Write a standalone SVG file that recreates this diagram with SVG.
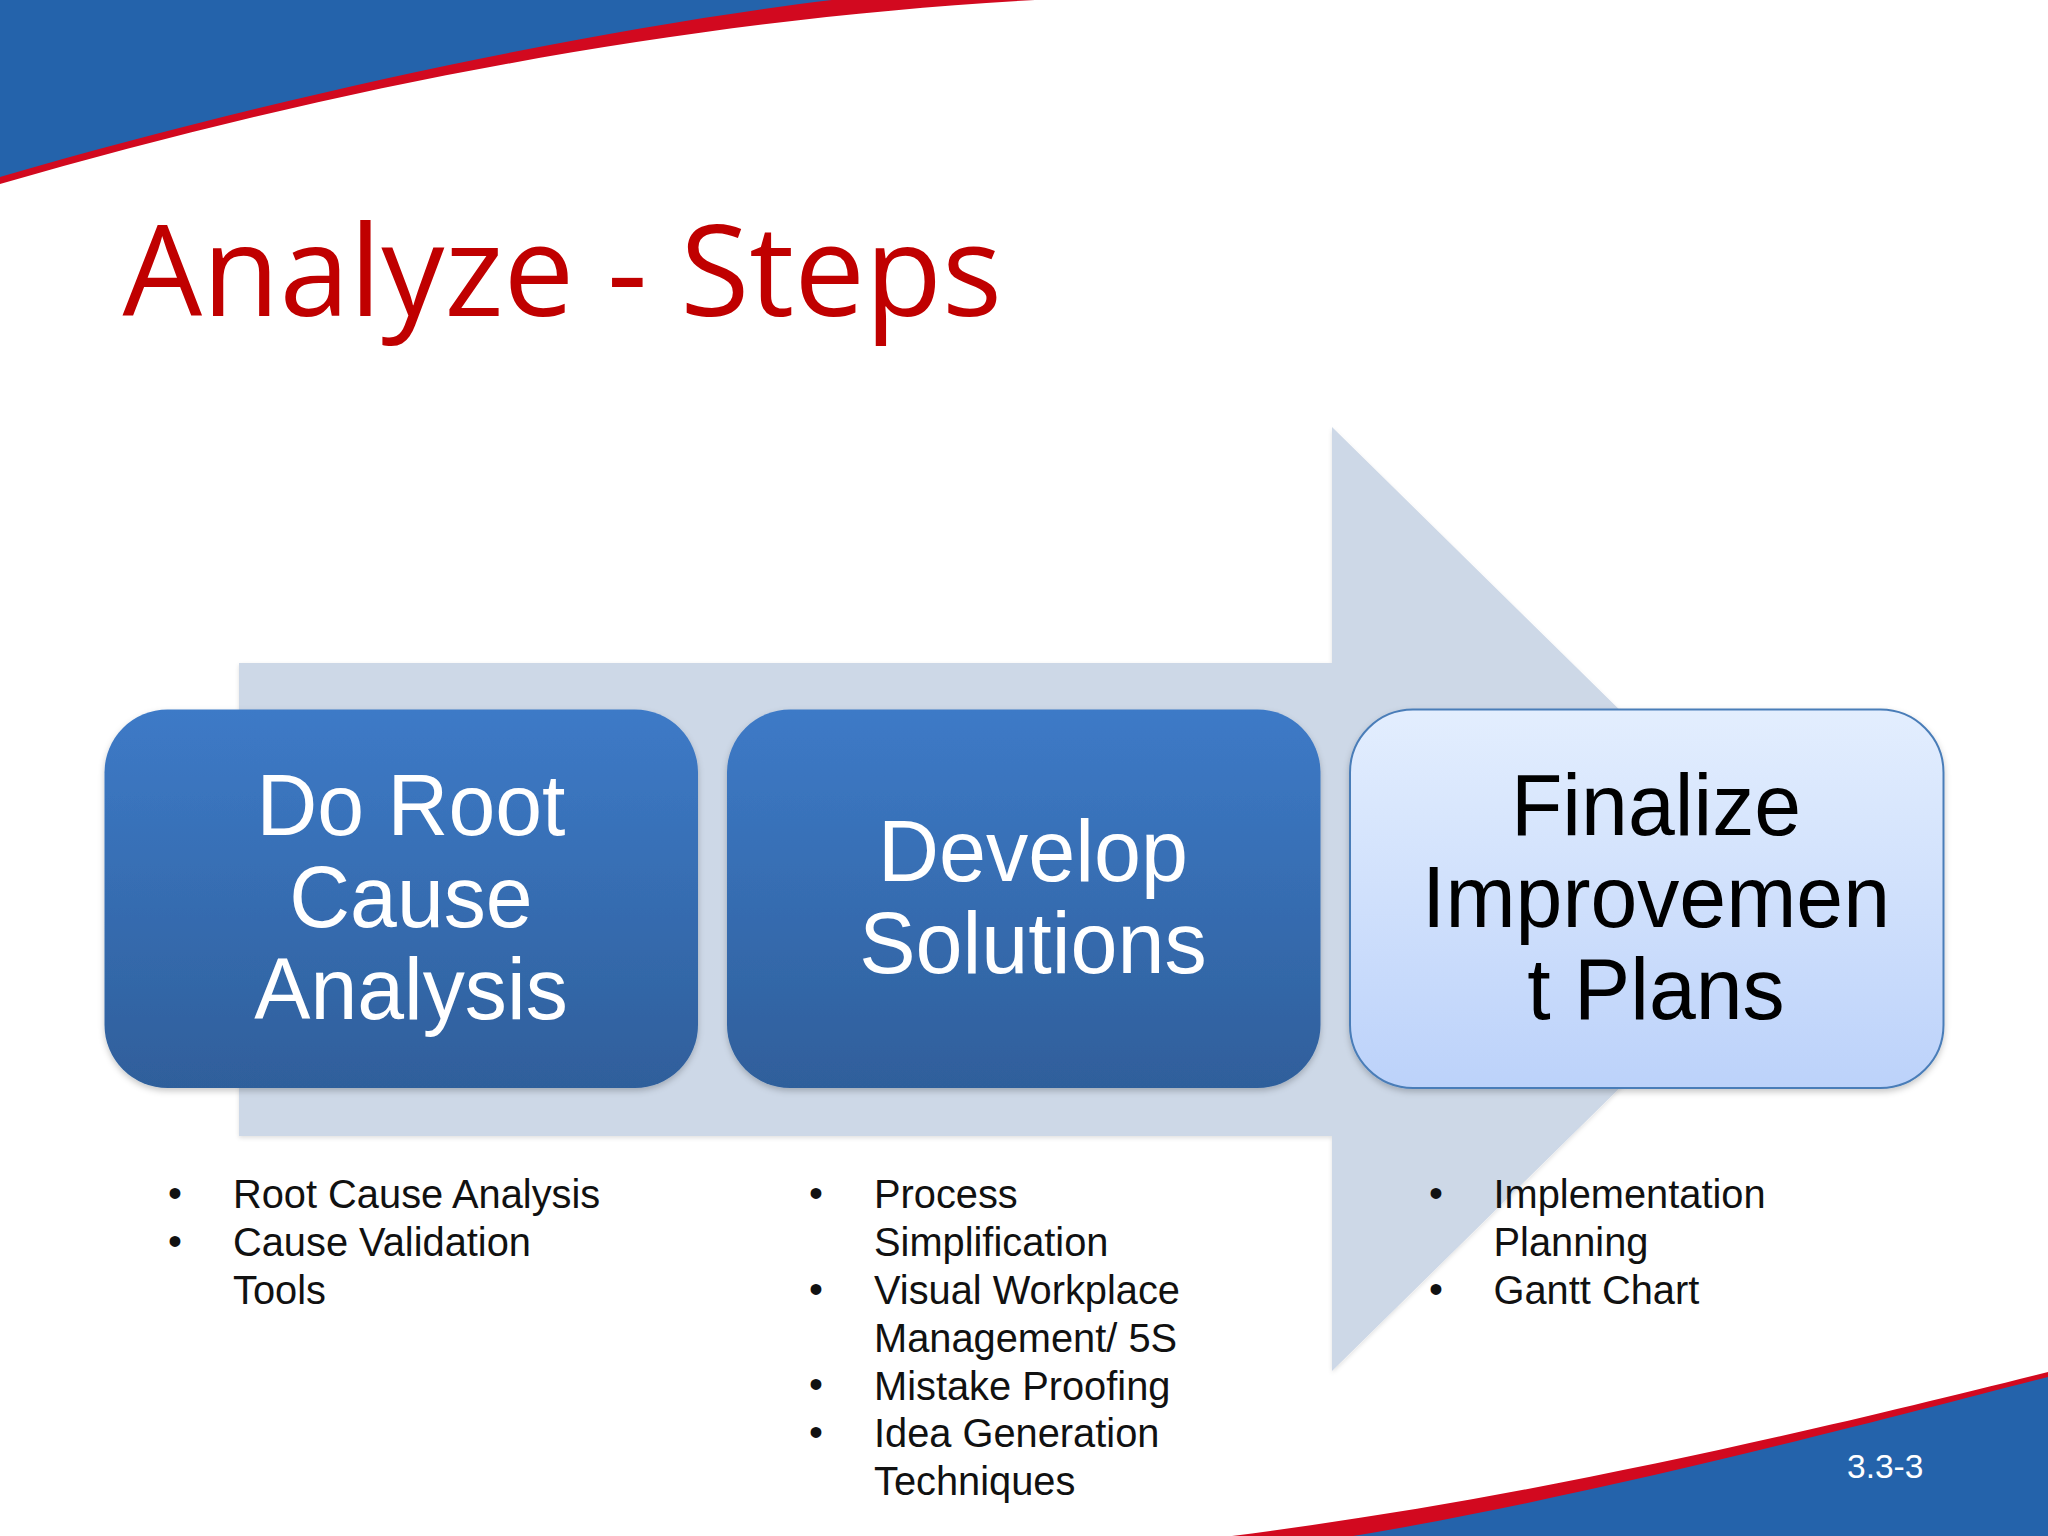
<svg xmlns="http://www.w3.org/2000/svg" width="2048" height="1536" viewBox="0 0 2048 1536">
<defs>
<linearGradient id="gBlue" x1="0" y1="0" x2="0" y2="1"><stop offset="0" stop-color="#3d7ac7"/><stop offset="1" stop-color="#2f5f9b"/></linearGradient>
<linearGradient id="gLight" x1="0" y1="0" x2="0" y2="1"><stop offset="0" stop-color="#e3eefe"/><stop offset="1" stop-color="#bcd2fa"/></linearGradient>
<filter id="sh" x="-5%" y="-5%" width="110%" height="112%"><feDropShadow dx="0" dy="3" stdDeviation="3" flood-color="#000" flood-opacity="0.22"/></filter>
<filter id="shA" x="-5%" y="-5%" width="110%" height="110%"><feDropShadow dx="0" dy="2" stdDeviation="2" flood-color="#000" flood-opacity="0.12"/></filter>
<style>
text{font-family:"Liberation Sans",Arial,sans-serif}
.box{font-size:88px;text-anchor:middle}
.w{fill:#fff}.k{fill:#000}
.body{font-size:39.800px;fill:#111}
.title{font-family:"Open Sans","Noto Sans",sans-serif;font-size:126px;fill:#c00000}
</style>
</defs>
<rect width="2048" height="1536" fill="#fff"/>
<g id="banner-top">
<path d="M0 0H1035C700 18 340 85 0 184Z" fill="#d2091f"/>
<path d="M0 0H832C600 28 280 95 0 177Z" fill="#2463ab"/>
</g>
<g id="banner-bottom">
<path d="M2048 1372C1840 1424 1540 1497 1232 1536H2048Z" fill="#d2091f"/>
<path d="M2048 1377C1900 1415 1600 1495 1353 1536H2048Z" fill="#2463ab"/>
</g>
<text id="title" class="title" x="122.500" y="316">Analyze - Steps</text>
<g id="arrow"><path d="M239 663H1332V427L1812 899L1332 1371V1136H239Z" fill="#cdd8e7" filter="url(#shA)"/></g>
<g id="node-1"><rect x="104.500" y="709.500" width="593.500" height="378.500" rx="63" fill="url(#gBlue)" filter="url(#sh)"/>
<text class="box w" transform="translate(411 0) scale(.957 1)"><tspan x="0" y="835">Do Root</tspan><tspan x="0" y="927">Cause</tspan><tspan x="0" y="1019">Analysis</tspan></text></g>
<g id="node-2"><rect x="727" y="709.500" width="593.500" height="378.500" rx="63" fill="url(#gBlue)" filter="url(#sh)"/>
<text class="box w" transform="translate(1033 0) scale(.96 1)"><tspan x="0" y="881">Develop</tspan><tspan x="0" y="973">Solutions</tspan></text></g>
<g id="node-3"><rect x="1350" y="709.500" width="593.500" height="378.500" rx="63" fill="url(#gLight)" stroke="#4a7db8" stroke-width="2" filter="url(#sh)"/>
<text class="box k" transform="translate(1656 0) scale(.957 1)"><tspan x="0" y="835">Finalize</tspan><tspan x="0" y="927">Improvemen</tspan><tspan x="0" y="1019">t Plans</tspan></text></g>
<g id="list-1">
<text class="body" x="168" y="1207">•</text><text class="body" x="233" y="1208">Root Cause Analysis</text>
<text class="body" x="168" y="1255">•</text><text class="body" x="233" y="1256">Cause Validation</text>
<text class="body" x="233" y="1304">Tools</text></g>
<g id="list-2">
<text class="body" x="809" y="1207">•</text><text class="body" x="874" y="1208">Process</text>
<text class="body" x="874" y="1256">Simplification</text>
<text class="body" x="809" y="1303">•</text><text class="body" x="874" y="1304">Visual Workplace</text>
<text class="body" x="874" y="1352">Management/ 5S</text>
<text class="body" x="809" y="1398">•</text><text class="body" x="874" y="1400">Mistake Proofing</text>
<text class="body" x="809" y="1446">•</text><text class="body" x="874" y="1447">Idea Generation</text>
<text class="body" x="874" y="1495">Techniques</text></g>
<g id="list-3">
<text class="body" x="1429" y="1207">•</text><text class="body" x="1493.500" y="1208">Implementation</text>
<text class="body" x="1493.500" y="1256">Planning</text>
<text class="body" x="1429" y="1303">•</text><text class="body" x="1493.500" y="1304">Gantt Chart</text></g>
<text id="page" x="1847" y="1478" font-size="33.500" fill="#fff">3.3-3</text>
</svg>
